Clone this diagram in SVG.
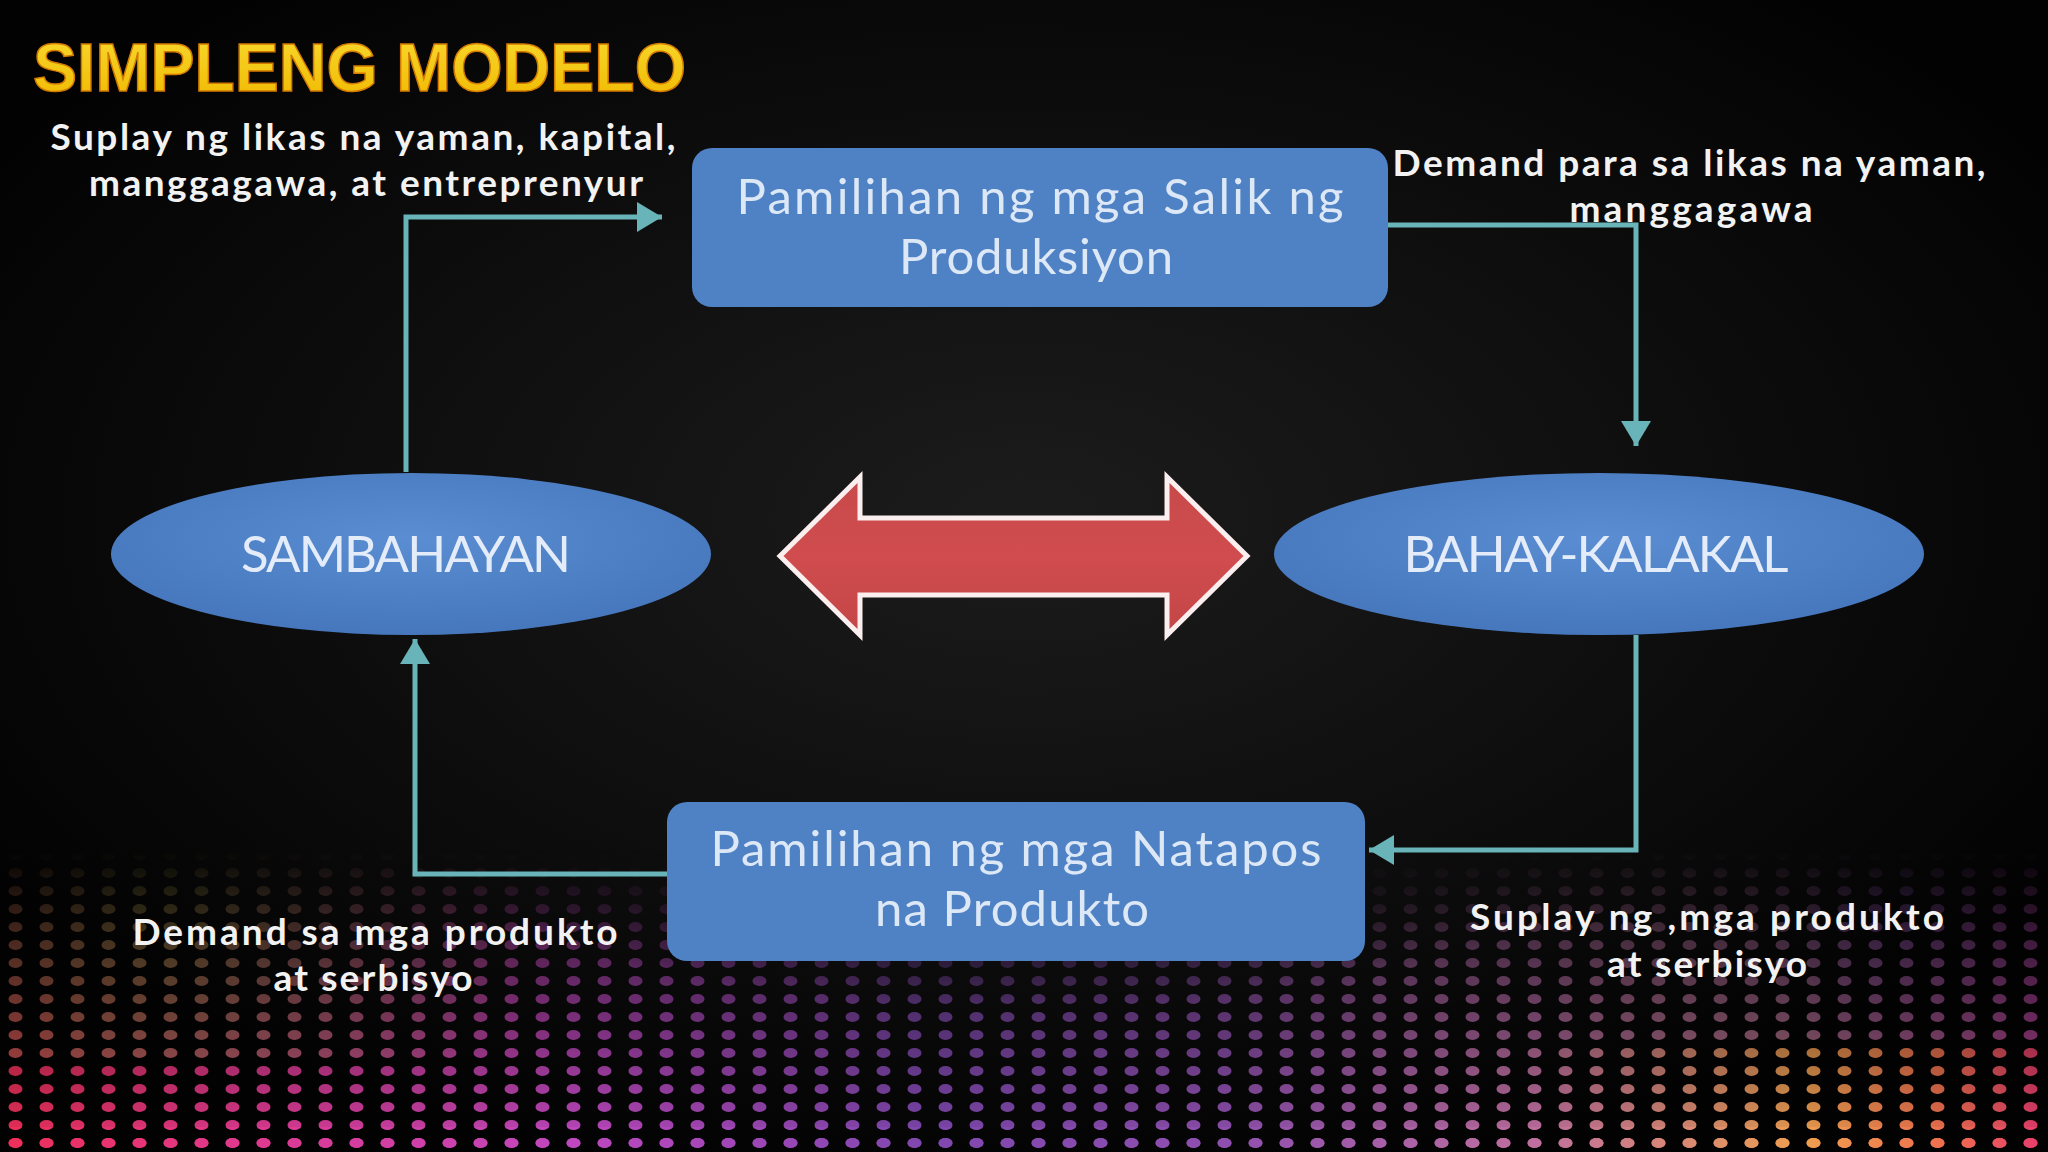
<svg xmlns="http://www.w3.org/2000/svg" width="2048" height="1152" viewBox="0 0 2048 1152">
<defs>
<style>
.lbl{font-family:Lato,"Open Sans","Liberation Sans",sans-serif;font-size:37px;font-weight:bold;fill:#f2f2f2;text-anchor:middle}
.box{fill:#4f81c5}
.btx{font-family:Lato,"Open Sans","Liberation Sans",sans-serif;font-size:49px;fill:#dde8f6;text-anchor:middle}
.etx{font-family:Lato,"Open Sans","Liberation Sans",sans-serif;font-size:51px;fill:#e3ecf8;text-anchor:middle}
.con{fill:none;stroke:#68b4b8;stroke-width:5}
</style>
<radialGradient id="bg" cx="0.5" cy="0.45" r="0.6">
<stop offset="0" stop-color="#1c1c1c"/>
<stop offset="1" stop-color="#020202"/>
</radialGradient>
<radialGradient id="ell" cx="0.5" cy="0.4" r="0.6">
<stop offset="0" stop-color="#5a8dd2"/>
<stop offset="1" stop-color="#4677bd"/>
</radialGradient>
<linearGradient id="ttl" x1="0" y1="0" x2="0" y2="1">
<stop offset="0" stop-color="#f8da30"/>
<stop offset="1" stop-color="#f0b800"/>
</linearGradient>
<linearGradient id="arr" x1="0" y1="0" x2="0" y2="1">
<stop offset="0" stop-color="#c84a4a"/>
<stop offset="0.5" stop-color="#d04c4e"/>
<stop offset="1" stop-color="#c44646"/>
</linearGradient>
<linearGradient id="hue" x1="0" y1="0" x2="1" y2="0">
<stop offset="0" stop-color="#f03058"/>
<stop offset="0.12" stop-color="#e03a90"/>
<stop offset="0.28" stop-color="#c048c0"/>
<stop offset="0.45" stop-color="#8048b0"/>
<stop offset="0.6" stop-color="#9050b0"/>
<stop offset="0.75" stop-color="#c070a0"/>
<stop offset="0.88" stop-color="#f0a050"/>
<stop offset="0.95" stop-color="#f07050"/>
<stop offset="1" stop-color="#e83a70"/>
</linearGradient>
<radialGradient id="olive" gradientUnits="userSpaceOnUse" cx="160" cy="860" r="380">
<stop offset="0" stop-color="#9a9a3a" stop-opacity="1"/>
<stop offset="0.5" stop-color="#8a8a40" stop-opacity="0.5"/>
<stop offset="1" stop-color="#8a8a40" stop-opacity="0"/>
</radialGradient>
<radialGradient id="violet" gradientUnits="userSpaceOnUse" cx="1900" cy="880" r="480">
<stop offset="0" stop-color="#7040b0" stop-opacity="0.9"/>
<stop offset="1" stop-color="#7040b0" stop-opacity="0"/>
</radialGradient>
<linearGradient id="vfade" x1="0" y1="0" x2="0" y2="1">
<stop offset="0" stop-color="#000"/>
<stop offset="0.3" stop-color="#666"/>
<stop offset="1" stop-color="#fff"/>
</linearGradient>
<radialGradient id="hole" cx="0.5" cy="0.2" r="0.5">
<stop offset="0" stop-color="#000" stop-opacity="1"/>
<stop offset="0.6" stop-color="#000" stop-opacity="0.85"/>
<stop offset="1" stop-color="#000" stop-opacity="0"/>
</radialGradient>
<pattern id="dot" x="0" y="0" width="31" height="18" patternUnits="userSpaceOnUse">
<ellipse cx="15.5" cy="9" rx="7" ry="5" fill="#fff"/>
</pattern>
<mask id="dots" maskUnits="userSpaceOnUse" x="0" y="0" width="2048" height="1152">
<rect x="0" y="840" width="2048" height="312" fill="url(#dot)"/>
</mask>
<mask id="fade" maskUnits="userSpaceOnUse" x="0" y="0" width="2048" height="1152">
<rect x="0" y="850" width="2048" height="302" fill="url(#vfade)"/>
<ellipse cx="1024" cy="910" rx="700" ry="250" fill="url(#hole)"/>
</mask>
<marker id="ah" markerWidth="6" markerHeight="6" refX="5" refY="3" orient="auto" markerUnits="strokeWidth">
<path d="M0,0 L5,3 L0,6 Z" fill="#68b4b8"/>
</marker>
</defs>

<g id="background">
<rect width="2048" height="1152" fill="url(#bg)"/>
<g mask="url(#fade)">
<g mask="url(#dots)">
<rect x="0" y="840" width="2048" height="312" fill="url(#hue)"/>
<rect x="0" y="840" width="600" height="220" fill="url(#olive)"/>
<rect x="1400" y="840" width="648" height="200" fill="url(#violet)"/>
</g>
</g>
<rect x="0" y="1127" width="2048" height="25" fill="url(#hue)" mask="url(#dots)" opacity="0.9"/>
</g>

<g id="title">
<text x="33" y="91" font-family="'Liberation Sans',Arial,sans-serif" font-size="68" font-weight="bold" fill="url(#ttl)" stroke="#d27a00" stroke-width="1.5" textLength="653" lengthAdjust="spacingAndGlyphs">SIMPLENG MODELO</text>
</g>

<g id="connectors">
<path class="con" d="M406,472 V217 H662" marker-end="url(#ah)"/>
<path class="con" d="M1388,225 H1636 V446" marker-end="url(#ah)"/>
<path class="con" d="M1636,635 V850 H1369" marker-end="url(#ah)"/>
<path class="con" d="M667,874 H415 V639" marker-end="url(#ah)"/>
</g>

<g id="box-salik">
<rect class="box" x="692" y="148" width="696" height="159" rx="20"/>
<text class="btx" x="1040" y="214" textLength="607">Pamilihan ng  mga Salik ng</text>
<text class="btx" x="1036" y="274" textLength="274">Produksiyon</text>
</g>

<g id="box-natapos">
<rect class="box" x="667" y="802" width="698" height="159" rx="20"/>
<text class="btx" x="1016" y="866" textLength="611">Pamilihan ng  mga Natapos</text>
<text class="btx" x="1012" y="926" textLength="274">na Produkto</text>
</g>

<g id="sambahayan">
<ellipse cx="411" cy="554" rx="300" ry="81" fill="url(#ell)"/>
<text class="etx" x="406" y="572" textLength="330">SAMBAHAYAN</text>
</g>

<g id="bahay-kalakal">
<ellipse cx="1599" cy="554" rx="325" ry="81" fill="url(#ell)"/>
<text class="etx" x="1596" y="572" textLength="385">BAHAY-KALAKAL</text>
</g>

<g id="double-arrow">
<path d="M780,556 L860,477 L860,518 L1167,518 L1167,477 L1247,556 L1167,635 L1167,595 L860,595 L860,635 Z" fill="url(#arr)" stroke="#fbeeee" stroke-width="5" stroke-linejoin="miter"/>
</g>

<g id="labels">
<text class="lbl" x="363" y="150" textLength="625">Suplay ng likas na yaman, kapital,</text>
<text class="lbl" x="366" y="196" textLength="554">manggagawa, at entreprenyur</text>
<text class="lbl" x="1689" y="176" textLength="593">Demand para sa likas na yaman,</text>
<text class="lbl" x="1691" y="222" textLength="243">manggagawa</text>
<text class="lbl" x="375" y="945" textLength="485">Demand sa mga produkto</text>
<text class="lbl" x="373" y="991" textLength="199">at serbisyo</text>
<text class="lbl" x="1707" y="930" textLength="474">Suplay ng ,mga produkto</text>
<text class="lbl" x="1707" y="977" textLength="200">at serbisyo</text>
</g>
</svg>
